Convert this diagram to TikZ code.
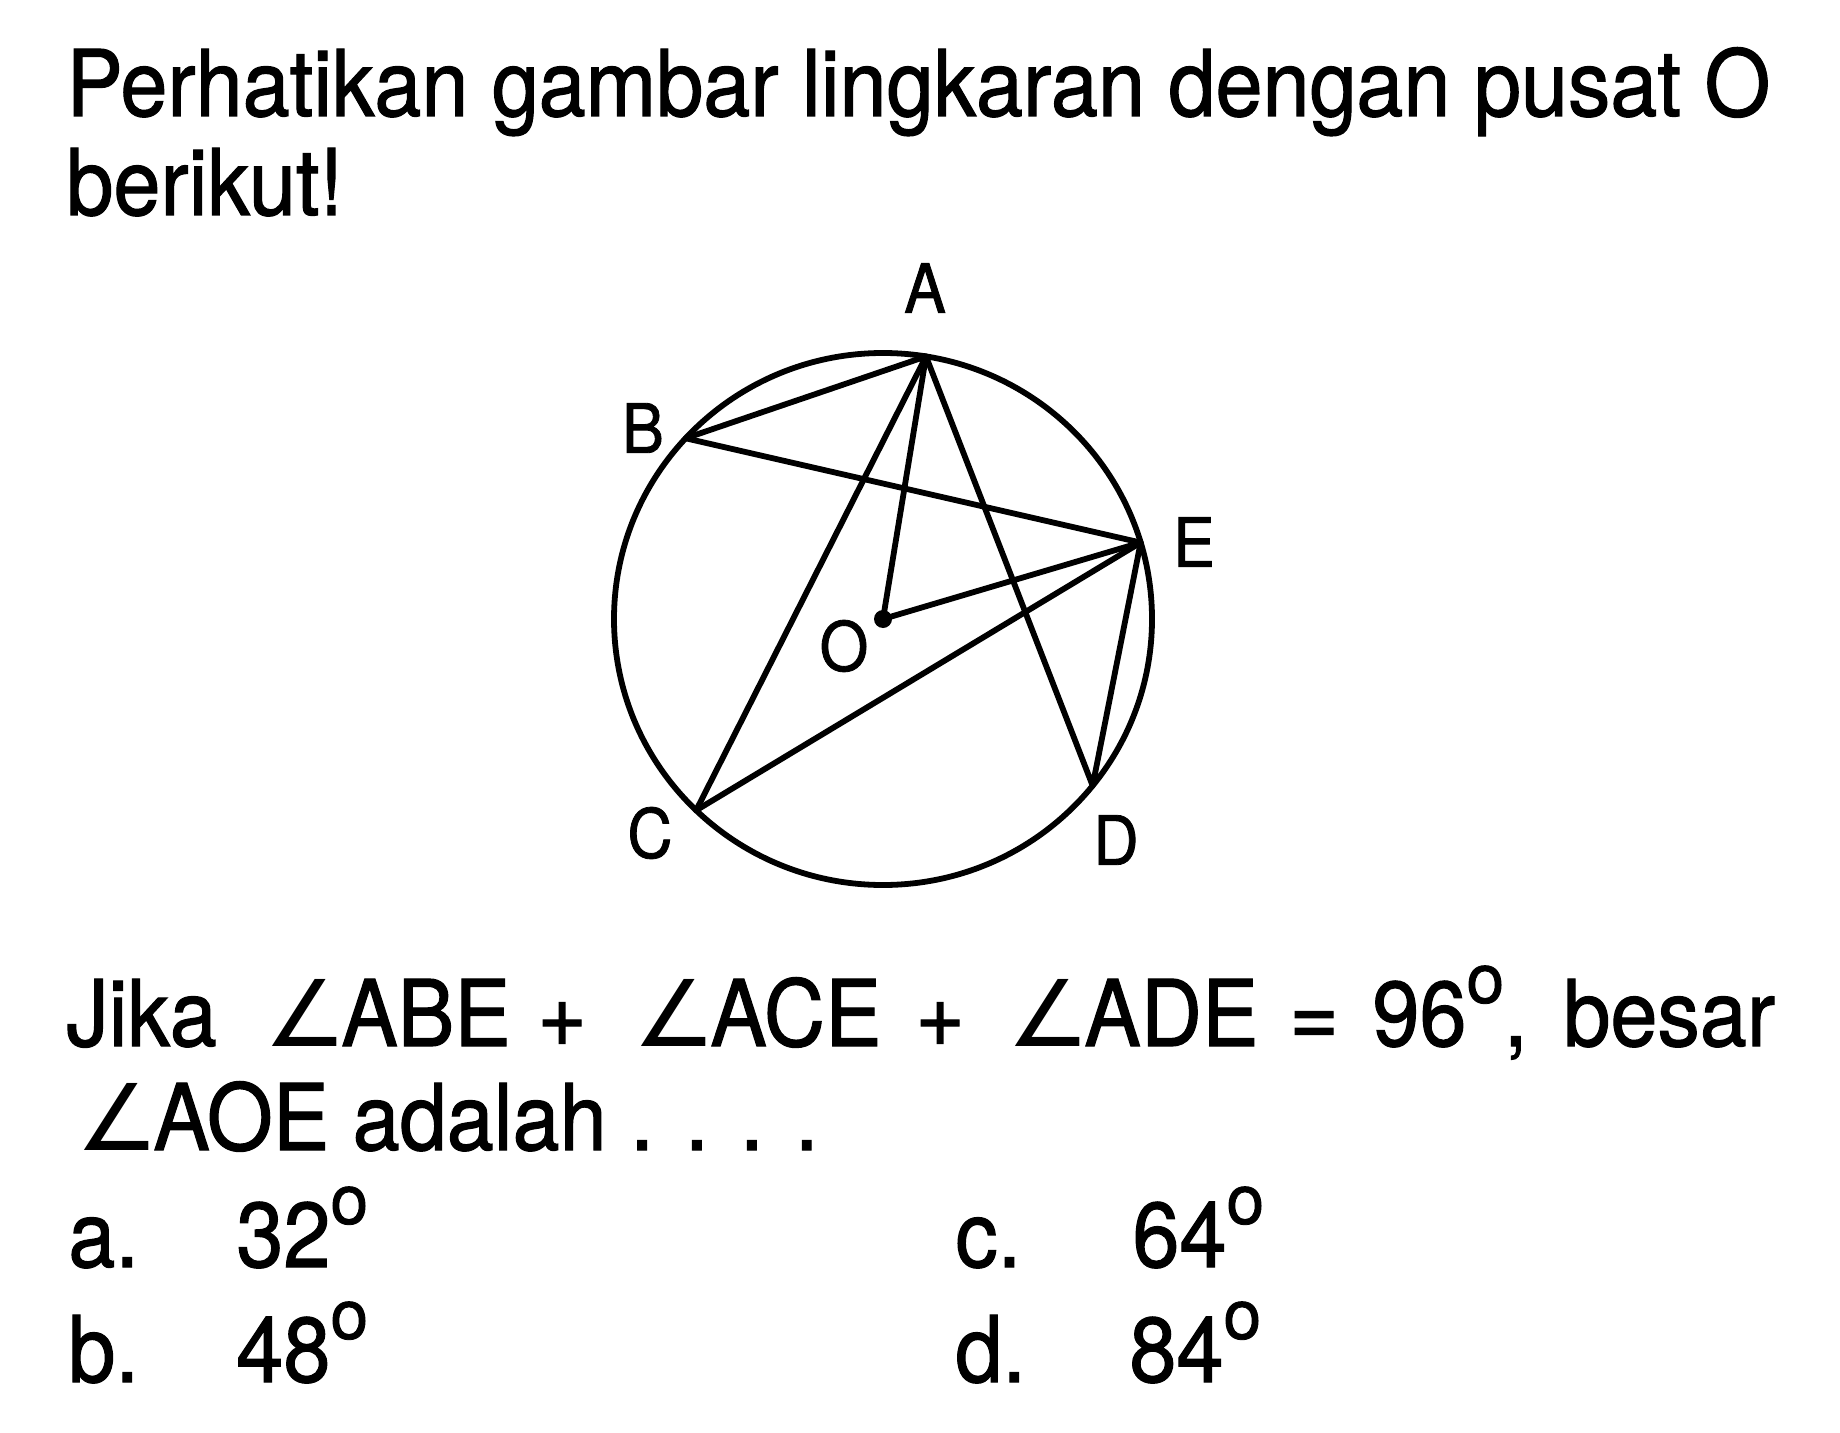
\documentclass[tikz,border=0pt]{standalone}
\usepackage{graphicx}
\usepackage{fontspec}
\setmainfont{TeX Gyre Heros}[FakeStretch=0.92, FakeBold=1.2]
\newfontfamily\symfont{DejaVu Sans}
\usetikzlibrary{calc}

\newcommand{\ang}{{\symfont ∠}\kern-0.06em}
\newcommand{\dg}{\raisebox{0.47em}{\scalebox{0.8}[0.75]{o}}}

\tikzset{
    txt/.style = {font=\fontsize{46}{52}\selectfont, inner sep=0pt, anchor=base west},
    lbl/.style = {font=\fontsize{34}{40}\selectfont, inner sep=0pt},
    chord/.style = {line width=2.9pt, line join=round, line cap=round}
}

\begin{document}
\begin{tikzpicture}[x=0.5pt, y=-0.5pt]
    \useasboundingbox (0,0) rectangle (1840,1433);

    % question text
    \node[txt] (q1) at (66,116) {Perhatikan gambar lingkaran dengan pusat O};
    \node[txt] (q2) at (66,215) {berikut!};

    % circle and points
    \coordinate (O) at (883,619);
    \draw[chord] (O) ellipse[x radius=269, y radius=266];
    \coordinate (A) at ($(O)+(-80.8:269 and 266)$);
    \coordinate (B) at ($(O)+(-137.2:269 and 266)$);
    \coordinate (E) at ($(O)+(-16.7:269 and 266)$);
    \coordinate (C) at ($(O)+(134:269 and 266)$);
    \coordinate (D) at ($(O)+(38.8:269 and 266)$);

    \draw[chord] (B) -- (A) -- (C);
    \draw[chord] (A) -- (O) -- (E);
    \draw[chord] (A) -- (D) -- (E);
    \draw[chord] (B) -- (E) -- (C);
    \fill (O) circle[radius=9];

    \node[lbl] (lA) at (925,288) {A};
    \node[lbl] (lB) at (643,428) {B};
    \node[lbl] (lE) at (1194,542) {E};
    \node[lbl] (lO) at (844,646) {O};
    \node[lbl] (lC) at (650,833) {C};
    \node[lbl] (lD) at (1116,840) {D};

    % condition
    \node[txt] (jika) at (66,1046) {Jika};
    \node[txt] (abe) at (264,1046) {\ang ABE};
    \node[txt] (p1) at (537,1046) {+};
    \node[txt] (ace) at (633,1046) {\ang ACE};
    \node[txt] (p2) at (915,1046) {+};
    \node[txt] (ade) at (1007,1046) {\ang ADE};
    \node[txt] (eq) at (1289,1046) {=};
    \node[txt] (val) at (1372,1046) {96\dg,};
    \node[txt] (besar) at (1563,1046) {besar};
    \node[txt] (aoe) at (76,1150) {\ang AOE adalah . . . .};

    % choices
    \node[txt] (oa) at (68,1267) {a.};
    \node[txt] (va) at (236,1267) {32\dg};
    \node[txt] (ob) at (68,1382) {b.};
    \node[txt] (vb) at (236,1382) {48\dg};
    \node[txt] (oc) at (955,1267) {c.};
    \node[txt] (vc) at (1132,1267) {64\dg};
    \node[txt] (od) at (955,1382) {d.};
    \node[txt] (vd) at (1129,1382) {84\dg};
\end{tikzpicture}
\end{document}
